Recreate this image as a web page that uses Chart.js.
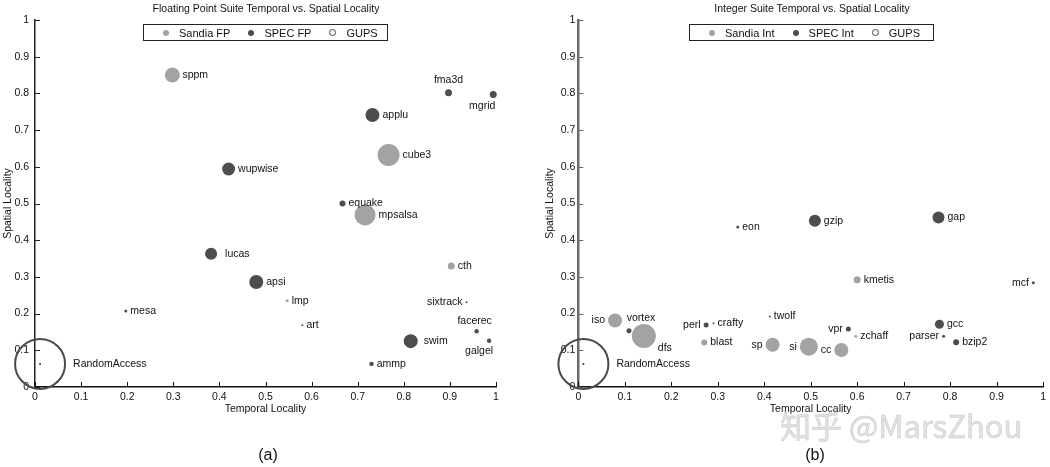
<!DOCTYPE html>
<html>
<head>
<meta charset="utf-8">
<script src="https://cdn.jsdelivr.net/npm/chart.js@4.4.1/dist/chart.umd.min.js"></script>
<style>
  body { margin: 0; background: #fff; font-family: "Liberation Sans", Arial, sans-serif; }
  #page { position: relative; width: 1050px; height: 467px; overflow: hidden; }
  .panel { position: absolute; top: 0; height: 467px; }
  .title { position: absolute; top: 2px; font-size: 10.5px; color: #111; white-space: nowrap; transform: translateX(-50%); }
  .legend { position: absolute; top: 24px; height: 17px; border: 1px solid #222; font-size: 11px; color: #111;
            display: flex; align-items: center; box-sizing: border-box; white-space: nowrap; }
  .legend .dot { display: inline-block; width: 6px; height: 6px; border-radius: 50%; margin: 0 10px 0 18px; }
  .legend .dot.first { margin-left: 19px; }
  .caption { position: absolute; top: 446px; font-size: 16px; color: #111; transform: translateX(-50%); }
  .watermark { position: absolute; left: 780px; top: 402px; font-size: 31px; color: #e2e2e2; white-space: nowrap;
               font-family: "Noto Sans CJK SC", "Liberation Sans", sans-serif; -webkit-text-stroke: 0.5px #c8c8c8; }
</style>
</head>
<body>
<div id="page">
  <div class="panel" style="left:0;width:530px"><canvas id="fpChart" width="530" height="467"></canvas></div>
  <div class="panel" style="left:530px;width:520px"><canvas id="intChart" width="520" height="467"></canvas></div>

  <div class="title" style="left:266px">Floating Point Suite Temporal vs. Spatial Locality</div>
  <div class="title" style="left:812px">Integer Suite Temporal vs. Spatial Locality</div>

  <div class="legend" style="left:143px;width:245px">
    <span class="dot first" style="background:#a3a3a3"></span>Sandia FP
    <span class="dot" style="background:#4d4d4d"></span>SPEC FP
    <span class="dot" style="border:1px solid #444;width:5px;height:5px"></span>GUPS
  </div>
  <div class="legend" style="left:689px;width:245px">
    <span class="dot first" style="background:#a3a3a3"></span>Sandia Int
    <span class="dot" style="background:#4d4d4d"></span>SPEC Int
    <span class="dot" style="border:1px solid #444;width:5px;height:5px"></span>GUPS
  </div>

  <div class="caption" style="left:268px">(a)</div>
  <div class="caption" style="left:815px">(b)</div>
  <div class="watermark">知乎 @MarsZhou</div>
</div>

<script>
// ---- data ----
const axisTicks = [0, 0.1, 0.2, 0.3, 0.4, 0.5, 0.6, 0.7, 0.8, 0.9, 1];

// (a) floating point suite
const fpSandiaNames    = ['sppm', 'cube3', 'mpsalsa', 'cth', 'lmp'];
const fpSandiaTemporal = [0.298, 0.767, 0.716, 0.903, 0.547];
const fpSandiaSpatial  = [0.850, 0.632, 0.469, 0.330, 0.235];
const fpSandiaSize     = [7.5, 11, 10.5, 3.5, 1.5];

const fpSpecNames    = ['fma3d', 'mgrid', 'applu', 'wupwise', 'equake', 'lucas', 'apsi', 'mesa', 'art', 'sixtrack', 'facerec', 'galgel', 'swim', 'ammp'];
const fpSpecTemporal = [0.897, 0.994, 0.732, 0.420, 0.667, 0.382, 0.480, 0.197, 0.580, 0.936, 0.958, 0.985, 0.815, 0.730];
const fpSpecSpatial  = [0.802, 0.797, 0.741, 0.594, 0.500, 0.363, 0.286, 0.207, 0.168, 0.231, 0.152, 0.126, 0.125, 0.063];
const fpSpecSize     = [3.5, 3.5, 7, 6.5, 3, 6, 7, 1.5, 1, 1, 2.2, 2.2, 7, 2.2];

// (b) integer suite
const intSandiaNames    = ['kmetis', 'iso', 'dfs', 'blast', 'sp', 'si', 'cc', 'zchaff'];
const intSandiaTemporal = [0.600, 0.079, 0.141, 0.271, 0.418, 0.496, 0.566, 0.597];
const intSandiaSpatial  = [0.292, 0.181, 0.139, 0.121, 0.115, 0.110, 0.101, 0.138];
const intSandiaSize     = [3.5, 7, 12, 3, 7, 9, 7, 1.5];

const intSpecNames    = ['eon', 'gzip', 'gap', 'mcf', 'vortex', 'perl', 'crafty', 'twolf', 'vpr', 'gcc', 'parser', 'bzip2'];
const intSpecTemporal = [0.343, 0.509, 0.775, 0.979, 0.109, 0.275, 0.291, 0.412, 0.581, 0.777, 0.786, 0.813];
const intSpecSpatial  = [0.436, 0.453, 0.462, 0.284, 0.153, 0.169, 0.174, 0.192, 0.158, 0.171, 0.138, 0.122];
const intSpecSize     = [1.5, 6, 6, 1.5, 2.5, 2.5, 1, 1, 2.5, 4.5, 1.5, 3];

const gupsNames    = ['RandomAccess'];
const gupsTemporal = [0.011];
const gupsSpatial  = [0.063];
const gupsSize     = [25];

// where each label sits relative to its marker (default: right)
const labelSide = {
  fma3d: [0, -13, 'center'], mgrid: [-11, 12, 'center'], sixtrack: 'l',
  facerec: [-2, -10, 'center'], galgel: [-10, 10, 'center'],
  mcf: 'l', iso: 'l', vortex: [12, -13, 'center'], dfs: [21, 12, 'center'],
  perl: 'l', sp: 'l', si: 'l', cc: 'l', vpr: 'l', parser: 'l',
  RandomAccess: [33, 0, 'left'], lucas: [14, 0, 'left'], swim: [13, 0, 'left'], sppm: [10, 0, 'left']
};

const SANDIA = '#a3a3a3';
const SPEC = '#4d4d4d';

function points(xs, ys, rs) {
  return xs.map((x, i) => ({ x: x, y: ys[i], r: rs[i] }));
}

const pointLabels = {
  id: 'pointLabels',
  afterDatasetsDraw(chart) {
    const ctx = chart.ctx;
    ctx.save();
    ctx.font = '10.5px "Liberation Sans", Arial, sans-serif';
    ctx.fillStyle = '#111';
    ctx.textBaseline = 'middle';
    chart.data.datasets.forEach((ds, di) => {
      if (!ds.names) return;
      chart.getDatasetMeta(di).data.forEach((el, i) => {
        const name = ds.names[i];
        const r = ds.data[i].r;
        const side = labelSide[name] || 'r';
        let x, y = el.y, align;
        if (side === 'r') { x = el.x + r + 3; align = 'left'; }
        else if (side === 'l') { x = el.x - r - 3; align = 'right'; }
        else { x = el.x + side[0]; y = el.y + side[1]; align = side[2]; }
        ctx.textAlign = align;
        ctx.fillText(name, x, y);
      });
    });
    ctx.restore();
  }
};

// MATLAB style ticks pointing into the plot
const innerTicks = {
  id: 'innerTicks',
  afterDraw(chart) {
    const ctx = chart.ctx;
    const xs = chart.scales.x, ys = chart.scales.y;
    const a = chart.chartArea;
    ctx.save();
    ctx.lineWidth = 1;
    ctx.strokeStyle = chart.options.tickColorY;
    axisTicks.forEach(v => {
      const py = Math.round(ys.getPixelForValue(v)) + 0.5;
      ctx.beginPath(); ctx.moveTo(a.left, py); ctx.lineTo(a.left + 5, py); ctx.stroke();
    });
    ctx.strokeStyle = '#111';
    axisTicks.forEach(v => {
      const px = Math.round(xs.getPixelForValue(v)) + 0.5;
      ctx.beginPath(); ctx.moveTo(px, a.bottom); ctx.lineTo(px, a.bottom - 5); ctx.stroke();
    });
    ctx.restore();
  }
};

function makeChart(id, sandia, spec, opts) {
  const tickFont = { family: '"Liberation Sans", Arial, sans-serif', size: 10.5 };
  return new Chart(document.getElementById(id), {
    type: 'bubble',
    data: {
      datasets: [
        { names: gupsNames, data: points(gupsTemporal, gupsSpatial, gupsSize), backgroundColor: 'rgba(0,0,0,0)',
          borderColor: '#4a4a4a', borderWidth: 2, clip: false },
        { data: points(gupsTemporal, gupsSpatial, [1]), backgroundColor: '#333', borderWidth: 0, clip: false },
        { names: sandia.names, data: points(sandia.x, sandia.y, sandia.r), backgroundColor: SANDIA, borderWidth: 0, clip: false },
        { names: spec.names, data: points(spec.x, spec.y, spec.r), backgroundColor: SPEC, borderWidth: 0, clip: false }
      ]
    },
    options: {
      responsive: false,
      animation: false,
      events: [],
      devicePixelRatio: 1,
      tickColorY: opts.yColor,
      layout: { autoPadding: false, padding: { left: opts.padLeft, right: opts.padRight, top: 20, bottom: 50 } },
      plugins: { legend: { display: false }, tooltip: { enabled: false } },
      scales: {
        x: {
          type: 'linear', min: 0, max: 1,
          afterBuildTicks: s => { s.ticks = axisTicks.map(v => ({ value: v })); },
          afterFit: s => { s.height = 30; },
          grid: { display: false, drawTicks: false },
          border: { display: true, color: '#111', width: 1.5 },
          ticks: { padding: 4, color: '#111', font: tickFont, maxRotation: 0, autoSkip: false,
                   callback: v => String(Math.round(v * 10) / 10) },
          title: { display: true, text: 'Temporal Locality', color: '#111', font: tickFont, padding: { top: 0, bottom: 1.5 } }
        },
        y: {
          type: 'linear', min: 0, max: 1,
          afterBuildTicks: s => { s.ticks = axisTicks.map(v => ({ value: v })); },
          afterFit: s => { s.width = opts.yWidth; },
          grid: { display: false, drawTicks: false },
          border: { display: true, color: opts.yColor, width: opts.yLine },
          ticks: { padding: opts.yPad, color: '#111', font: tickFont, autoSkip: false,
                   callback: v => String(Math.round(v * 10) / 10) },
          title: { display: true, text: 'Spatial Locality', color: '#111', font: tickFont, padding: { top: 1.4, bottom: 0 } }
        }
      }
    },
    plugins: [pointLabels, innerTicks]
  });
}

makeChart('fpChart',
  { names: fpSandiaNames, x: fpSandiaTemporal, y: fpSandiaSpatial, r: fpSandiaSize },
  { names: fpSpecNames, x: fpSpecTemporal, y: fpSpecSpatial, r: fpSpecSize },
  { padLeft: 0, padRight: 34, yWidth: 35, yPad: 6, yColor: '#222', yLine: 1.5 });

makeChart('intChart',
  { names: intSandiaNames, x: intSandiaTemporal, y: intSandiaSpatial, r: intSandiaSize },
  { names: intSpecNames, x: intSpecTemporal, y: intSpecSpatial, r: intSpecSize },
  { padLeft: 12, padRight: 5, yWidth: 36.3, yPad: 3, yColor: '#6a6a6a', yLine: 2.5 });
</script>
</body>
</html>
